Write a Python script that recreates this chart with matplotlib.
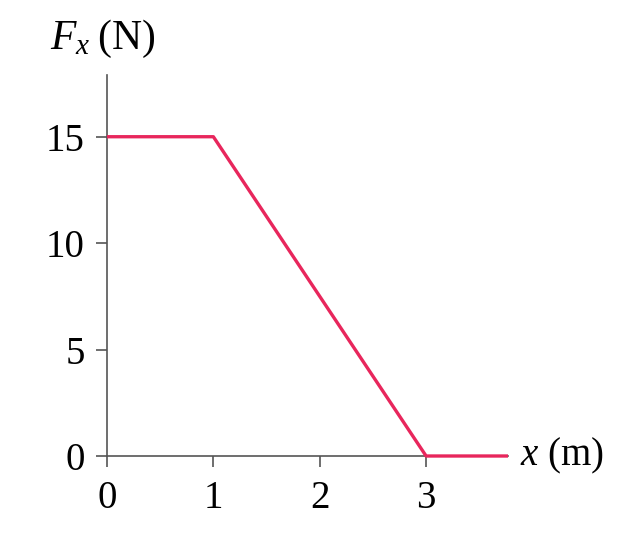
import matplotlib
matplotlib.use("Agg")
import matplotlib.pyplot as plt

# data
x_m = [0, 1, 3, 3.77]
force_n = [15, 15, 0, 0]
x_ticks = [0, 1, 2, 3]
y_ticks = [0, 5, 10, 15]

plt.rcParams['font.family'] = ['Liberation Serif', 'DejaVu Serif']
plt.rcParams['mathtext.fontset'] = 'custom'
plt.rcParams['mathtext.rm'] = 'Liberation Serif'
plt.rcParams['mathtext.it'] = 'Liberation Serif:italic'

fig = plt.figure(figsize=(6.31, 5.36), dpi=100)
ax = fig.add_axes([107 / 631, 80 / 536, 401 / 631, 381 / 536])

ax.plot(x_m, force_n, color='#e8265c', linewidth=2.4, solid_capstyle='butt',
        clip_on=False, zorder=3)

ax.set_xlim(0, 3.77)
ax.set_ylim(0, 17.9)
ax.set_xticks(x_ticks)
ax.set_yticks(y_ticks)

for side in ('top', 'right'):
    ax.spines[side].set_visible(False)
for side in ('left', 'bottom'):
    ax.spines[side].set_color('#555555')
    ax.spines[side].set_linewidth(1.2)

ax.tick_params(axis='both', direction='out', length=8, width=1.2,
               color='#555555', labelsize=28)
ax.tick_params(axis='x', pad=9)
ax.tick_params(axis='y', pad=8)

fig.text(50 / 631, 1 - 49 / 536, r'$F_x\;$(N)', fontsize=30, ha='left',
         va='baseline')
fig.text(520 / 631, 1 - 456 / 536, r'$x$ (m)', fontsize=28, ha='left',
         va='center')

fig.savefig('out.png', dpi=100)
